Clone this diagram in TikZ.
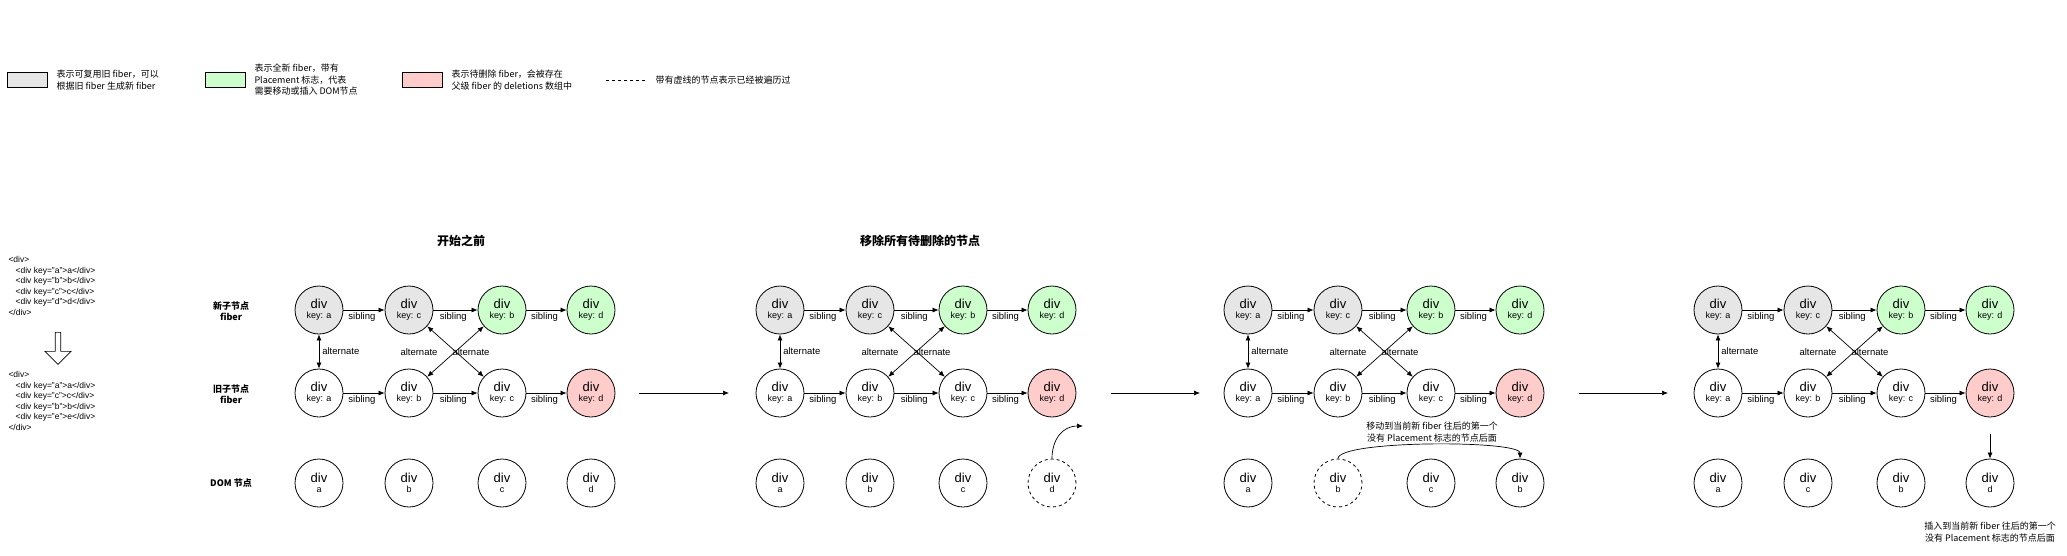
\documentclass[tikz,border=0pt]{standalone}
\usepackage{fontspec}
\setmainfont{Liberation Sans}
\newfontfamily\cjk{Noto Sans CJK SC}
\usetikzlibrary{arrows.meta,shapes.arrows}
\definecolor{fgray}{HTML}{E6E6E6}
\definecolor{fgreen}{HTML}{CCFFCC}
\definecolor{fpink}{HTML}{FFCCCC}
\tikzset{
 fib/.style={circle,draw,line width=0.8pt,minimum size=48pt,inner sep=0pt,align=center},
 lbl/.style={font=\fontsize{9.5}{10}\selectfont,inner sep=1pt},
 arr/.style={-{Latex[length=6pt,width=5pt]},line width=0.7pt},
 darr/.style={{Latex[length=6pt,width=5pt]}-{Latex[length=6pt,width=5pt]},line width=0.7pt},
 legbox/.style={draw,line width=0.7pt,minimum width=40pt,minimum height=15pt},
 legtxt/.style={anchor=west,align=left,font=\cjk\fontsize{9}{11.5}\selectfont},
 codetxt/.style={anchor=north west,align=left,font=\fontsize{8.5}{10.5}\selectfont},
 rowlbl/.style={align=center,font=\cjk\bfseries\fontsize{9}{11}\selectfont},
 ttl/.style={font=\cjk\bfseries\fontsize{12}{14}\selectfont},
}
\newcommand{\dv}[1]{{\fontsize{13}{14}\selectfont div}\\[-2pt]{\fontsize{9}{10}\selectfont #1}}
\begin{document}
\begin{tikzpicture}[x=1pt,y=-1pt]
\useasboundingbox (0,0) rectangle (2067,555);
% legend
\node[legbox,fill=fgray] (lg1) at (27,80) {};
\node[legtxt] (lt1) at (53,80) {表示可复用旧 fiber，可以\\根据旧 fiber 生成新 fiber};
\node[legbox,fill=fgreen] (lg2) at (225,80) {};
\node[legtxt] (lt2) at (251,80) {表示全新 fiber，带有\\Placement 标志，代表\\需要移动或插入 DOM节点};
\node[legbox,fill=fpink] (lg3) at (422,80) {};
\node[legtxt] (lt3) at (448,80) {表示待删除 fiber，会被存在\\父级 fiber 的 deletions 数组中};
\coordinate (ld1) at (606,80); \coordinate (ld2) at (646,80);
\draw[dashed,line width=1pt] (ld1) -- (ld2);
\node[legtxt] (lt4) at (652,80) {带有虚线的节点表示已经被遍历过};
% code
\node[codetxt] (code1) at (5,253) {<div>\\\ \ \ <div key="a">a</div>\\\ \ \ <div key="b">b</div>\\\ \ \ <div key="c">c</div>\\\ \ \ <div key="d">d</div>\\</div>};
\node[codetxt] (code2) at (5,368) {<div>\\\ \ \ <div key="a">a</div>\\\ \ \ <div key="c">c</div>\\\ \ \ <div key="b">b</div>\\\ \ \ <div key="e">e</div>\\</div>};
\node[single arrow,draw,line width=0.7pt,shape border rotate=270,minimum height=32pt,minimum width=26pt,single arrow head extend=5pt,inner sep=1pt] (down) at (58,347) {};
% row labels
\node[rowlbl] (r1) at (231,311) {新子节点\\fiber};
\node[rowlbl] (r2) at (231,394) {旧子节点\\fiber};
\node[rowlbl] (r3) at (231,483) {DOM 节点};
\node[ttl] (t1) at (461,241) {开始之前};
\node[ttl] (t2) at (920,241) {移除所有待删除的节点};
% panels
\foreach \p/\x in {1/319,2/780,3/1248,4/1718}{
 \node[fib,fill=fgray] (n\p a) at (\x,310) {\dv{key: a}};
 \node[fib,fill=fgray] (n\p c) at (\x+90,310) {\dv{key: c}};
 \node[fib,fill=fgreen] (n\p b) at (\x+183,310) {\dv{key: b}};
 \node[fib,fill=fgreen] (n\p d) at (\x+272,310) {\dv{key: d}};
 \node[fib] (o\p a) at (\x,393) {\dv{key: a}};
 \node[fib] (o\p b) at (\x+90,393) {\dv{key: b}};
 \node[fib] (o\p c) at (\x+183,393) {\dv{key: c}};
 \node[fib,fill=fpink] (o\p d) at (\x+272,393) {\dv{key: d}};
 \draw[arr] (n\p a) -- node[lbl,below=1pt,pos=0.45]{sibling} (n\p c);
 \draw[arr] (n\p c) -- node[lbl,below=1pt,pos=0.45]{sibling} (n\p b);
 \draw[arr] (n\p b) -- node[lbl,below=1pt,pos=0.45]{sibling} (n\p d);
 \draw[arr] (o\p a) -- node[lbl,below=1pt,pos=0.45]{sibling} (o\p b);
 \draw[arr] (o\p b) -- node[lbl,below=1pt,pos=0.45]{sibling} (o\p c);
 \draw[arr] (o\p c) -- node[lbl,below=1pt,pos=0.45]{sibling} (o\p d);
 \draw[darr] (n\p a) -- node[lbl,right=2pt]{alternate} (o\p a);
 \draw[darr] (n\p c) -- (o\p c);
 \draw[darr] (n\p b) -- (o\p b);
 \node[lbl] (al\p) at (\x+100,352) {alternate};
 \node[lbl] (ar\p) at (\x+152,352) {alternate};
}
% DOM rows
\node[fib] (d1a) at (319,483) {\dv{a}};
\node[fib] (d1b) at (409,483) {\dv{b}};
\node[fib] (d1c) at (502,483) {\dv{c}};
\node[fib] (d1d) at (591,483) {\dv{d}};
\node[fib] (d2a) at (780,483) {\dv{a}};
\node[fib] (d2b) at (870,483) {\dv{b}};
\node[fib] (d2c) at (963,483) {\dv{c}};
\node[fib,dashed] (d2d) at (1052,483) {\dv{d}};
\node[fib] (d3a) at (1248,483) {\dv{a}};
\node[fib,dashed] (d3b) at (1338,483) {\dv{b}};
\node[fib] (d3c) at (1431,483) {\dv{c}};
\node[fib] (d3d) at (1520,483) {\dv{b}};
\node[fib] (d4a) at (1718,483) {\dv{a}};
\node[fib] (d4b) at (1808,483) {\dv{c}};
\node[fib] (d4c) at (1901,483) {\dv{b}};
\node[fib] (d4d) at (1990,483) {\dv{d}};
% panel transition arrows
\coordinate (s1) at (639,393); \coordinate (e1) at (729,393);
\coordinate (s2) at (1111,393); \coordinate (e2) at (1200,393);
\coordinate (s3) at (1579,393); \coordinate (e3) at (1668,393);
\draw[arr] (s1) -- (e1); \draw[arr] (s2) -- (e2); \draw[arr] (s3) -- (e3);
% special arrows
\coordinate (x2) at (1083,426);
\draw[arr] (d2d.north) .. controls (1052,440) and (1062,426) .. (x2);
\draw[arr] (d3b.north) .. controls (1338,440) and (1520,440) .. (d3d.north);
\node[lbl,font=\cjk\fontsize{9}{11.5}\selectfont,align=center] (m3) at (1432,432) {移动到当前新 fiber 往后的第一个\\没有 Placement 标志的节点后面};
\coordinate (x4) at (1990,434);
\draw[arr] (x4) -- (d4d.north);
\node[lbl,font=\cjk\fontsize{9}{11.5}\selectfont,align=center] (m4) at (1990,532) {插入到当前新 fiber 往后的第一个\\没有 Placement 标志的节点后面};
\end{tikzpicture}
\end{document}
